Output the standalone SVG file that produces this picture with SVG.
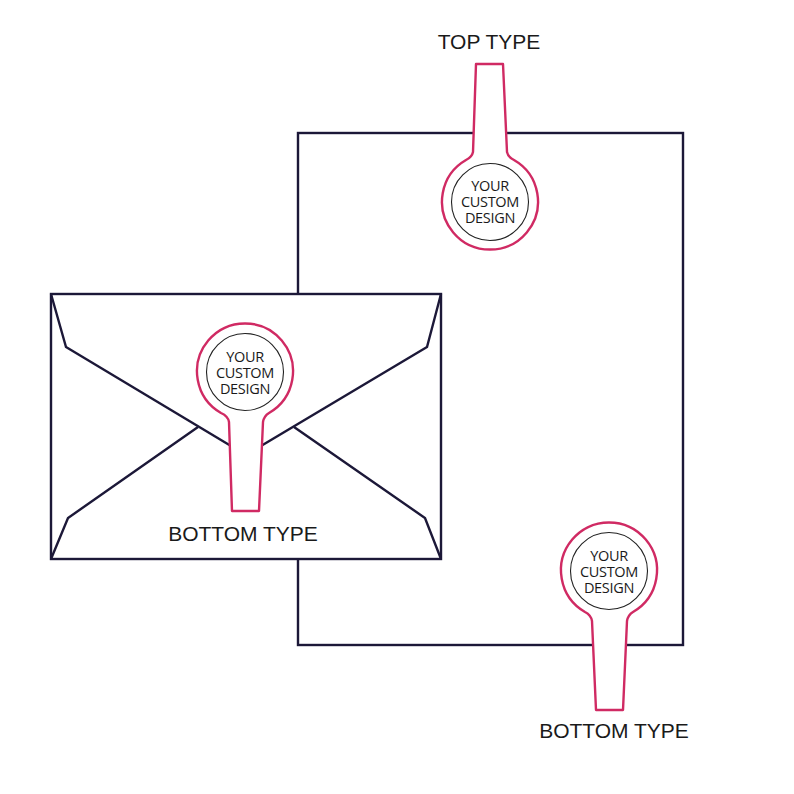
<svg xmlns="http://www.w3.org/2000/svg" width="794" height="794" viewBox="0 0 794 794">
<style>
.dark{fill:none;stroke:#1c1838;stroke-width:2.4;stroke-linejoin:miter}
.panel{fill:#ffffff;stroke:#1c1838;stroke-width:2.4}
.tag{fill:#ffffff;stroke:#d02a63;stroke-width:2.4;stroke-linejoin:round}
.inner{fill:#ffffff;stroke:#222222;stroke-width:1.1}
.ct{font-family:"Open Sans","Liberation Sans",sans-serif;font-size:14.5px;letter-spacing:-0.3px;fill:#1a1a1a;text-anchor:middle}
.lbl{font-family:"Liberation Sans",Arial,sans-serif;font-size:21px;fill:#1a1a1a;text-anchor:middle}
</style>
<rect width="794" height="794" fill="#ffffff"/>
<g id="paper">
<rect class="panel" x="298" y="133" width="385" height="512"/>
</g>
<g id="envelope">
<rect class="panel" x="51" y="294" width="390" height="265"/>
<g id="connectors">
<polyline class="dark" points="51,294 66,347 246,455"/>
<polyline class="dark" points="441,294 427,347 246,455"/>
<polyline class="dark" points="51,559 68,518 198,427"/>
<polyline class="dark" points="441,559 425,518 294,427"/>
</g>
</g>
<g id="tag-top">
<path class="tag" d="M476,64 L503,64 L507,152 Q508,157 514,160 A48,48 0 1 1 466,160 Q472,157 473,152 Z"/>
<circle class="inner" cx="490" cy="202" r="38.5"/>
<text class="ct" x="490" y="191">YOUR</text>
<text class="ct" x="490" y="207">CUSTOM</text>
<text class="ct" x="490" y="223">DESIGN</text>
</g>
<g id="tag-envelope">
<path class="tag" d="M232,511 L259,511 L263,422 Q264,416 269,413 A48,48 0 1 0 221,413 Q228,416 229,422 Z"/>
<circle class="inner" cx="245" cy="372" r="38.5"/>
<text class="ct" x="245" y="362">YOUR</text>
<text class="ct" x="245" y="378">CUSTOM</text>
<text class="ct" x="245" y="394">DESIGN</text>
</g>
<g id="tag-bottom">
<path class="tag" d="M596,710 L623,710 L627,621 Q628,615 633,612 A48,48 0 1 0 585,612 Q591,615 592,621 Z"/>
<circle class="inner" cx="609" cy="571" r="38.5"/>
<text class="ct" x="609" y="561">YOUR</text>
<text class="ct" x="609" y="577">CUSTOM</text>
<text class="ct" x="609" y="593">DESIGN</text>
</g>
<g id="labels">
<text class="lbl" x="489" y="49">TOP TYPE</text>
<text class="lbl" x="243" y="541">BOTTOM TYPE</text>
<text class="lbl" x="614" y="738">BOTTOM TYPE</text>
</g>
</svg>
